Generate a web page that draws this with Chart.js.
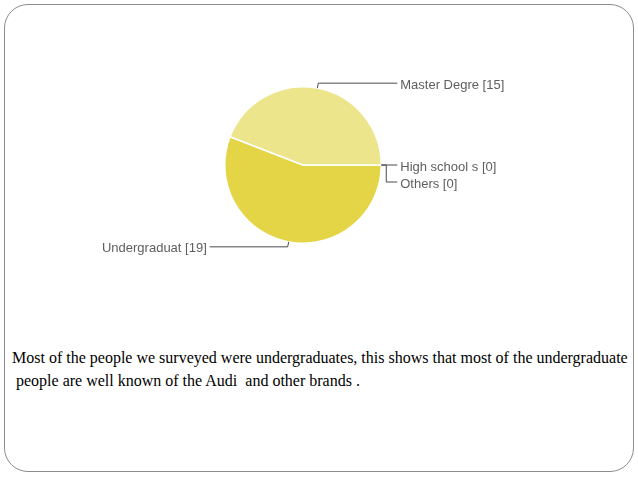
<!DOCTYPE html>
<html>
<head>
<meta charset="utf-8">
<script src="https://cdn.jsdelivr.net/npm/chart.js@4.4.0/dist/chart.umd.min.js"></script>
<style>
body { margin: 0; background: #fff; }
#slide { position: absolute; left: 4px; top: 4px; width: 630px; height: 468px; border: 1px solid #8c8c8c; border-radius: 24px; box-sizing: border-box; }
#wrap { position: absolute; left: 0; top: 0; width: 606px; height: 330px; }
#note { position: absolute; left: 12px; top: 346px; font-family: "Liberation Serif", serif; font-size: 16px; line-height: 23px; color: #000; white-space: pre; }
</style>
</head>
<body>
<div id="slide"></div>
<div id="wrap"><canvas id="pieChart" width="606" height="330"></canvas></div>
<div id="note">Most of the people we surveyed were undergraduates, this shows that most of the undergraduate
 people are well known of the Audi  and other brands .</div>
<script>
const labels = ['Undergraduat', 'Master Degre', 'High school s', 'Others'];
const counts = [19, 15, 0, 0];
const colors = ['#e3d545', '#ede58c', '#e8dc60', '#e8dc60'];

// leader lines + "[n]" labels next to the pie
const sideLabels = {
    id: 'sideLabels',
    afterDraw(chart) {
        const ctx = chart.ctx;
        const arcs = chart.getDatasetMeta(0).data;
        let lastRight = -999, lastLeft = -999;
        ctx.save();
        ctx.font = '13px "Liberation Sans", Arial, sans-serif';
        ctx.textBaseline = 'middle';
        ctx.lineWidth = 1;
        arcs.forEach((arc, i) => {
            const mid = (arc.startAngle + arc.endAngle) / 2;
            const r = arc.outerRadius;
            const cos = Math.cos(mid), sin = Math.sin(mid);
            const ax = arc.x + cos * r, ay = arc.y + sin * r;
            const ex = arc.x + cos * (r + 5), ey = arc.y + sin * (r + 5);
            const right = cos >= 0;
            let ly = ey;
            if (right) {
                if (ly < lastRight + 17) ly = lastRight + 17;
                lastRight = ly;
            } else {
                if (ly < lastLeft + 17) ly = lastLeft + 17;
                lastLeft = ly;
            }
            const lx = right ? arc.x + r + 16 : arc.x - r - 15;
            ctx.strokeStyle = '#4a4a4a';
            ctx.beginPath();
            ctx.moveTo(ax, ay);
            ctx.lineTo(ex, ey);
            ctx.lineTo(ex, ly);
            ctx.lineTo(lx, ly);
            ctx.stroke();
            const text = labels[i] + ' [' + counts[i] + ']';
            ctx.fillStyle = '#5e5e5e';
            ctx.textAlign = right ? 'left' : 'right';
            ctx.fillText(text, right ? lx + 3 : lx - 3, ly + 2);
        });
        ctx.restore();
    }
};

new Chart(document.getElementById('pieChart'), {
    type: 'pie',
    data: {
        labels: labels,
        datasets: [{
            data: counts,
            backgroundColor: colors,
            borderColor: '#ffffff',
            borderWidth: 1.5
        }]
    },
    options: {
        responsive: false,
        animation: false,
        rotation: 90,
        layout: {
            padding: { top: 86, bottom: 86, left: 200, right: 200 }
        },
        plugins: {
            legend: { display: false },
            tooltip: { enabled: false }
        }
    },
    plugins: [sideLabels]
});
</script>
</body>
</html>
